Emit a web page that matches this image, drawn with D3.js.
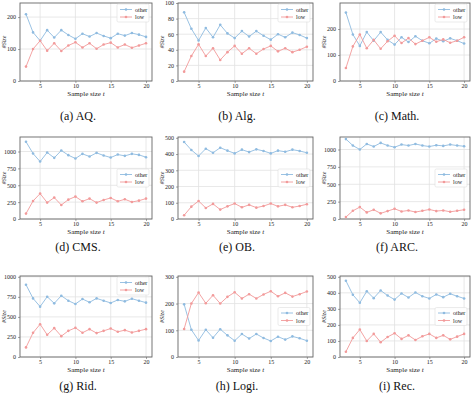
<!DOCTYPE html>
<html>
<head>
<meta charset="utf-8">
<script src="https://cdn.jsdelivr.net/npm/d3@7"></script>
<style>
  body { margin: 0; background: #fff; }
  svg { display: block; font-family: "Liberation Serif", "DejaVu Serif", serif; }
</style>
</head>
<body>
<svg id="chart" width="474" height="395"></svg>
<script>
'use strict';

var sampleSizes = d3.range(3, 21);
var seriesNames = ['other', 'low'];
var captions = ['(a) AQ.', '(b) Alg.', '(c) Math.', '(d) CMS.', '(e) OB.', '(f) ARC.', '(g) Rid.', '(h) Logi.', '(i) Rec.'];
var xTicks = [5, 10, 15, 20];

var aqOther   = [209, 152, 126, 159, 136, 159, 144, 132, 148, 139, 150, 141, 134, 148, 142, 150, 145, 138];
var aqLow     = [45, 100, 126, 95, 118, 94, 111, 121, 105, 118, 101, 114, 120, 105, 114, 104, 111, 118];
var algOther  = [88, 67, 52, 68, 56, 72, 61, 55, 64, 57, 64, 58, 53, 60, 56, 62, 59, 55];
var algLow    = [12, 32, 47, 32, 42, 27, 37, 45, 35, 42, 35, 41, 45, 38, 42, 37, 40, 44];
var mathOther = [263, 179, 135, 188, 155, 188, 158, 140, 168, 150, 172, 155, 145, 163, 153, 164, 155, 144];
var mathLow   = [50, 133, 179, 126, 158, 124, 153, 174, 146, 165, 142, 155, 168, 151, 160, 147, 155, 168];
var cmsOther  = [1144, 970, 851, 985, 906, 1015, 946, 896, 965, 926, 980, 941, 911, 955, 936, 965, 950, 916];
var cmsLow    = [80, 267, 376, 243, 317, 208, 287, 332, 262, 302, 243, 282, 312, 262, 292, 252, 272, 302];
var obOther   = [474, 425, 388, 433, 408, 439, 421, 404, 427, 412, 429, 419, 404, 421, 414, 427, 419, 408];
var obLow     = [23, 76, 111, 68, 93, 58, 78, 95, 72, 87, 70, 80, 95, 78, 87, 72, 80, 91];
var arcOther  = [1150, 1057, 1000, 1080, 1043, 1095, 1057, 1033, 1071, 1057, 1080, 1057, 1043, 1062, 1052, 1071, 1057, 1047];
var arcLow    = [28, 118, 171, 95, 133, 81, 114, 147, 109, 123, 100, 118, 137, 114, 123, 104, 118, 133];
var ridOther  = [900, 731, 628, 752, 669, 764, 702, 661, 723, 682, 731, 702, 674, 711, 694, 727, 702, 678];
var ridLow    = [120, 302, 409, 277, 360, 260, 326, 364, 302, 347, 298, 326, 355, 314, 335, 306, 326, 347];
var logiOther = [197, 102, 62, 102, 72, 104, 81, 61, 86, 69, 86, 71, 60, 76, 65, 77, 70, 61];
var logiLow   = [105, 200, 241, 201, 231, 200, 225, 242, 219, 235, 219, 234, 246, 227, 240, 226, 235, 245];
var recOther  = [475, 388, 338, 410, 367, 415, 383, 358, 396, 371, 402, 379, 365, 390, 373, 394, 379, 365];
var recLow    = [33, 119, 171, 100, 144, 92, 125, 148, 113, 135, 106, 129, 144, 119, 135, 110, 127, 144];

var yTickSets = [
    [0, 100, 200], [0, 20, 40, 60, 80, 100], [0, 100, 200],
    [0, 250, 500, 750, 1000], [0, 100, 200, 300, 400, 500], [0, 250, 500, 750, 1000],
    [0, 250, 500, 750, 1000], [0, 100, 200, 300], [0, 100, 200, 300, 400, 500]
];
var yMaxes = [244, 100, 300, 1215, 505, 1180, 1010, 303, 505];

var otherSeries = [aqOther, algOther, mathOther, cmsOther, obOther, arcOther, ridOther, logiOther, recOther];
var lowSeries = [aqLow, algLow, mathLow, cmsLow, obLow, arcLow, ridLow, logiLow, recLow];

// layout
var cols = [{l: 20, r: 152, c: 78}, {l: 178, r: 313, c: 237}, {l: 340, r: 470, c: 397}];
var rows = [{t: 3, b: 81, cap: 120}, {t: 137, b: 219, cap: 251}, {t: 276, b: 357, cap: 390}];
var legendPos = ['top', 'top', 'top', 'mid', 'mid', 'mid', 'top', 'mid', 'mid'];
var colors = {other: '#8fbbe0', low: '#f29a9a'};
var FONT = '"Liberation Serif", "DejaVu Serif", serif';

var svg = d3.select('#chart');

captions.forEach(function(cap, i) {
    drawPanel(i);
});

function drawPanel(i) {
    var col = cols[i % 3], row = rows[Math.floor(i / 3)];
    var x = d3.scaleLinear().domain([2.15, 20.85]).range([col.l, col.r]);
    var y = d3.scaleLinear().domain([0, yMaxes[i]]).range([row.b, row.t]);
    var g = svg.append('g');

    // grid
    g.selectAll('.gx').data(xTicks).enter().append('line')
        .attr('x1', function(d) { return x(d); }).attr('x2', function(d) { return x(d); })
        .attr('y1', row.t).attr('y2', row.b)
        .attr('stroke', '#e2e2e2').attr('stroke-width', 0.8);
    g.selectAll('.gy').data(yTickSets[i]).enter().append('line')
        .attr('x1', col.l).attr('x2', col.r)
        .attr('y1', function(d) { return y(d); }).attr('y2', function(d) { return y(d); })
        .attr('stroke', '#e2e2e2').attr('stroke-width', 0.8);

    // axes
    var xAxis = d3.axisBottom(x).tickValues(xTicks).tickSize(2).tickPadding(1).tickFormat(d3.format('d'));
    var yAxis = d3.axisLeft(y).tickValues(yTickSets[i]).tickSize(2).tickPadding(2).tickFormat(d3.format('d'));
    var xa = g.append('g').attr('transform', 'translate(0,' + row.b + ')').call(xAxis);
    var ya = g.append('g').attr('transform', 'translate(' + col.l + ',0)').call(yAxis);
    [xa, ya].forEach(function(a) {
        a.attr('font-family', FONT).attr('font-size', 6);
        a.select('.domain').remove();
        a.selectAll('line').attr('stroke', '#666').attr('stroke-width', 0.6);
        a.selectAll('text').attr('fill', '#222');
    });

    // frame
    g.append('rect')
        .attr('x', col.l).attr('y', row.t)
        .attr('width', col.r - col.l).attr('height', row.b - row.t)
        .attr('fill', 'none').attr('stroke', '#666').attr('stroke-width', 0.9);

    // series
    var line = d3.line()
        .x(function(d, k) { return x(sampleSizes[k]); })
        .y(function(d) { return y(d); });
    [['other', otherSeries[i]], ['low', lowSeries[i]]].forEach(function(s) {
        g.append('path').datum(s[1])
            .attr('d', line).attr('fill', 'none')
            .attr('stroke', colors[s[0]]).attr('stroke-width', 0.9);
        g.selectAll('.m-' + s[0]).data(s[1]).enter().append('circle')
            .attr('cx', function(d, k) { return x(sampleSizes[k]); })
            .attr('cy', function(d) { return y(d); })
            .attr('r', 1.3).attr('fill', colors[s[0]]);
    });

    // labels
    var xl = g.append('text')
        .attr('x', (col.l + col.r) / 2).attr('y', row.b + 15)
        .attr('text-anchor', 'middle').attr('font-size', 7).attr('fill', '#222');
    xl.append('tspan').text('Sample size ');
    xl.append('tspan').attr('font-style', 'italic').text('t');
    g.append('text')
        .attr('transform', 'translate(' + (col.l - 14) + ',' + ((row.t + row.b) / 2) + ') rotate(-90)')
        .attr('text-anchor', 'middle').attr('font-size', 6).attr('font-style', 'italic').attr('fill', '#222')
        .text('#Size');
    g.append('text')
        .attr('x', col.c).attr('y', row.cap)
        .attr('text-anchor', 'middle').attr('font-size', 12).attr('fill', '#111')
        .text(captions[i]);

    // legend
    var lw = 32, lh = 18;
    var lx = col.r - lw - 3;
    var ly = legendPos[i] === 'top' ? row.t + 1 : (row.t + row.b) / 2 - lh / 2;
    var lg = g.append('g').attr('transform', 'translate(' + lx + ',' + ly + ')');
    lg.append('rect').attr('width', lw).attr('height', lh).attr('rx', 1.5)
        .attr('fill', '#fff').attr('fill-opacity', 0.85)
        .attr('stroke', '#ddd').attr('stroke-width', 0.6);
    seriesNames.forEach(function(name, k) {
        var yy = 5.5 + k * 7.5;
        lg.append('line').attr('x1', 3).attr('x2', 15).attr('y1', yy).attr('y2', yy)
            .attr('stroke', colors[name]).attr('stroke-width', 0.9);
        lg.append('circle').attr('cx', 9).attr('cy', yy).attr('r', 1.3).attr('fill', colors[name]);
        lg.append('text').attr('x', 18).attr('y', yy + 2).attr('font-size', 6).attr('fill', '#222')
            .text(name);
    });
}
</script>
</body>
</html>
